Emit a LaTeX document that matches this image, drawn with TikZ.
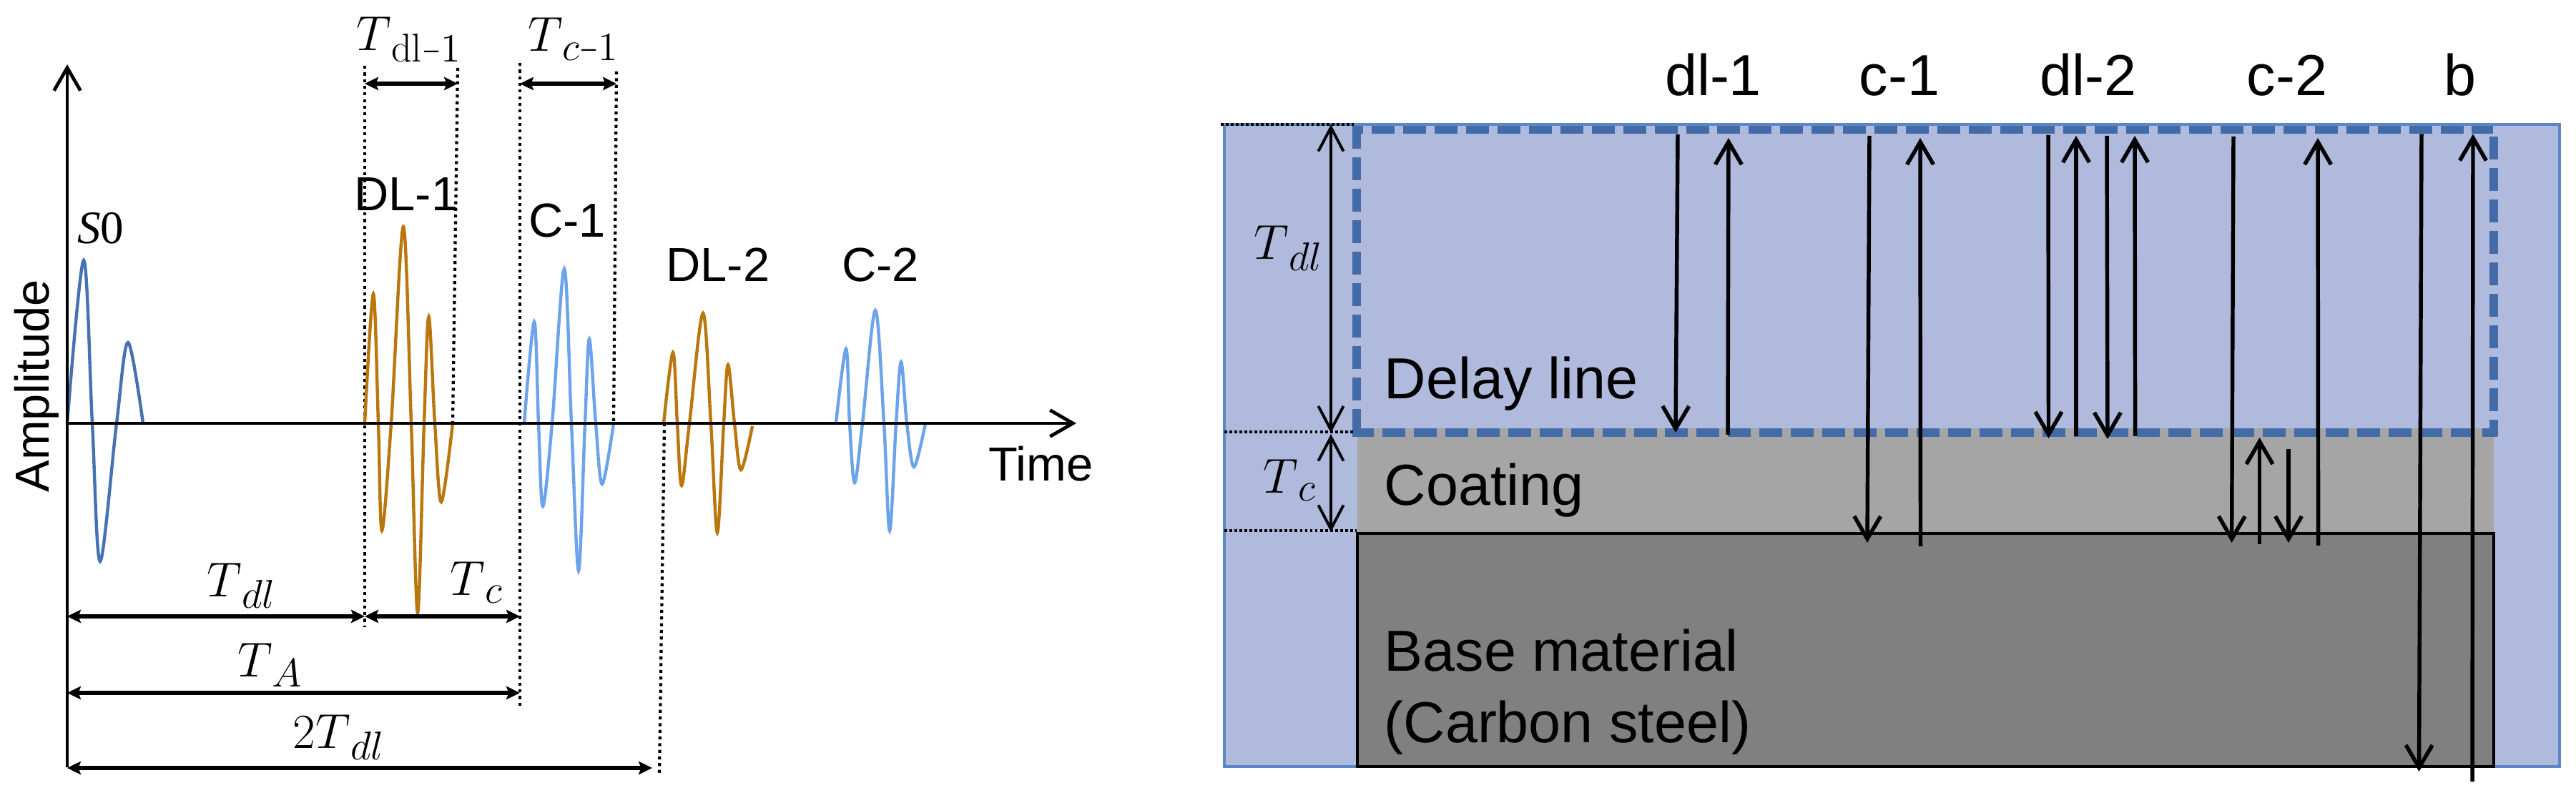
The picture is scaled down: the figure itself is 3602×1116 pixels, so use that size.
\RequirePackage{fix-cm}
\documentclass[tikz,border=0pt]{standalone}
\usepackage{fontspec}
\setsansfont{Liberation Sans}
\newfontfamily\serifS{Liberation Serif}
\usetikzlibrary{arrows.meta}
\DeclareMathSizes{19.5}{19.5}{16}{12}
\newcommand{\shortminus}{\scalebox{0.6}[1]{$\scriptstyle-$}}
\definecolor{wblue}{HTML}{4672B2}
\definecolor{worange}{HTML}{B9770E}
\definecolor{wlight}{HTML}{6CA3EA}
\definecolor{layerblue}{HTML}{B0BADD}
\definecolor{edgeblue}{HTML}{5B86C8}
\definecolor{dashblue}{HTML}{436BA8}
\definecolor{coatgrey}{HTML}{A5A5A5}
\definecolor{basegrey}{HTML}{808080}
\tikzset{
  x=0.01cm,y=-0.01cm,
  wave/.style={line width=1.25pt,smooth,tension=0.55},
  axisline/.style={black,line width=1.35pt,-{Straight Barb[length=9.1pt,width=10.5pt]}},
  dim/.style={black,line width=1.5pt,{Stealth[length=5.4pt,width=5.2pt,inset=1pt]}-{Stealth[length=5.4pt,width=5.2pt,inset=1pt]}},
  dots/.style={black,line width=1.2pt,dash pattern=on 1.2pt off 1.45pt},
  hdots/.style={black,line width=1.2pt,dash pattern=on 1.1pt off 0.9pt},
  ray/.style={black,line width=1.55pt,-{Straight Barb[length=9pt,width=10.5pt]}},
  thick arrow/.style={black,line width=1.1pt,{Straight Barb[length=9.5pt,width=10pt]}-{Straight Barb[length=9.5pt,width=10pt]}},
  dashedge/.style={dashblue,line width=3.2pt,dash pattern=on 9.1pt off 3.4pt},
  txtsmall/.style={inner sep=0pt,anchor=base,font=\sffamily\fontsize{19}{23}\selectfont},
  txtbig/.style={inner sep=0pt,anchor=base,font=\sffamily\fontsize{23}{28}\selectfont},
  txtleft/.style={txtbig,anchor=base west},
  mathlab/.style={inner sep=0pt,anchor=base,font=\fontsize{19.5}{24}\selectfont},
}
\begin{document}
\begin{tikzpicture}
\useasboundingbox (0,0) rectangle (3602,1116);
% ---- left panel: dotted guides
\draw[dots] (510,92) -- (510,877);
\draw[dots] (640,95) -- (633,592);
\draw[dots] (727,88) -- (727,989);
\draw[dots] (862,100) -- (858,592);
\draw[dots] (929,592) -- (922,1083);
% ---- waves
\draw[wblue,wave] plot coordinates {(94,592) (117,364) (129,592) (140,785) (163,592) (179,479) (200,592)};
\draw[worange,wave] plot coordinates {(510,592) (522,411) (529,592) (534,742) (547,592) (564,317) (575,592) (584,857) (593,592) (599.5,443) (608,592) (617,702) (633,592)};
\draw[wlight,wave] plot coordinates {(733,592) (747,450) (753,592) (759,708) (772,592) (789,376) (799,592) (809,798) (818,592) (824,474) (833,592) (842,677) (858,592)};
\draw[worange,wave] plot coordinates {(928,592) (941,493) (947,592) (953,679) (964,592) (983,438) (994,592) (1003,745) (1012,592) (1018,510) (1027,592) (1036,657) (1052,596)};
\draw[wlight,wave] plot coordinates {(1169,591) (1183,488) (1188,592) (1195,675) (1206,592) (1224,434) (1236,592) (1244,742) (1253,592) (1260,506) (1268,592) (1278,653) (1294,592)};
% ---- axes
\draw[axisline] (94,1073) -- (94,90);
\draw[axisline] (94,592) -- (1505,592);
% ---- dimension arrows
\draw[dim] (510,117) -- (640,117);
\draw[dim] (727,117) -- (862,117);
\draw[dim] (94,862) -- (510,862);
\draw[dim] (510,862) -- (727,862);
\draw[dim] (94,969) -- (727,969);
\draw[dim] (94,1074) -- (912,1074);
% ---- left labels
\node[mathlab] (tdlone) at (572,71) {$T_{\,\mathrm{dl}\shortminus 1}$};
\node[mathlab] (tcone) at (802,72) {$T_{\,c\shortminus 1}$};
\node[mathlab] (tdl) at (338,835) {$T_{\,dl}$};
\node[mathlab] (tc) at (667,833) {$T_{\,c}$};
\node[mathlab] (ta) at (378,946) {$T_{\,A}$};
\node[mathlab] (twotdl) at (474,1047) {$2T_{\,dl}$};
\node[inner sep=0pt,anchor=base,font=\serifS\fontsize{18.5}{22}\selectfont] (szero) at (141,341) {{\itshape S}0};
\node[txtsmall] (dlone) at (568,295) {DL-1};
\node[txtsmall] (cone) at (793,332) {C-1};
\node[txtsmall] (dltwo) at (1004,394) {DL-2};
\node[txtsmall] (ctwo) at (1231,394) {C-2};
\node[txtsmall] (time) at (1455.5,673) {Time};
\node[txtsmall,rotate=90] (amp) at (68,540) {Amplitude};
% ---- right panel: layers
\fill[layerblue] (1712,174) rectangle (3579,1072);
\fill[coatgrey] (1898,599) rectangle (3487,746);
\draw[edgeblue,line width=1pt] (1712,174) rectangle (3579,1072);
\draw[black,fill=basegrey,line width=1pt] (1898,746) rectangle (3487,1072);
% ---- dashed delay line box
\draw[dashedge,dash phase=4.85pt] (1891,181.5) -- (3486,181.5);
\draw[dashedge] (1897,176) -- (1897,610);
\draw[dashedge,dash phase=0.6pt] (1891,605) -- (3492,605);
\draw[dashedge] (3487,191) -- (3487,610);
% ---- dotted thickness guides
\draw[hdots] (1707,174) -- (1893,174);
\draw[hdots] (1712,604) -- (1893,604);
\draw[hdots] (1712,742) -- (1897,742);
\draw[thick arrow] (1861,174) -- (1861,605.5);
\draw[thick arrow] (1861,607) -- (1861,744);
% ---- rays
\draw[ray] (2346,188) -- (2343,605);
\draw[ray] (2416,608) -- (2417,193);
\draw[ray] (2614,190) -- (2611,759);
\draw[ray] (2685.5,764) -- (2685,193);
\draw[ray] (2864,189) -- (2864.5,613);
\draw[ray] (2903,610) -- (2903,190);
\draw[ray] (2946,190) -- (2947,614);
\draw[ray] (2985.6,610) -- (2985,190);
\draw[ray] (3123,191) -- (3120.6,759);
\draw[ray] (3241.6,763) -- (3241,193);
\draw[ray] (3159.5,761) -- (3159.5,612);
\draw[ray] (3200,628) -- (3200,759);
\draw[ray] (3386,187.5) -- (3382.5,1079);
\draw[ray] (3457,1093) -- (3458,187.5);
% ---- right labels
\node[txtbig] (ldlone) at (2395.5,134) {dl-1};
\node[txtbig] (lcone) at (2656,134) {c-1};
\node[txtbig] (ldltwo) at (2920,134) {dl-2};
\node[txtbig] (lctwo) at (3198,134) {c-2};
\node[txtbig] (lb) at (3440,134) {b};
\node[txtleft] (delay) at (1935,558) {Delay line};
\node[txtleft] (coat) at (1935,707) {Coating};
\node[txtleft] (basem) at (1935,939) {Base material};
\node[txtleft] (carbon) at (1935,1038) {(Carbon steel)};
\node[mathlab] (rtdl) at (1802,363) {$T_{\,dl}$};
\node[mathlab] (rtc) at (1804,690) {$T_{\,c}$};
\end{tikzpicture}
\end{document}
